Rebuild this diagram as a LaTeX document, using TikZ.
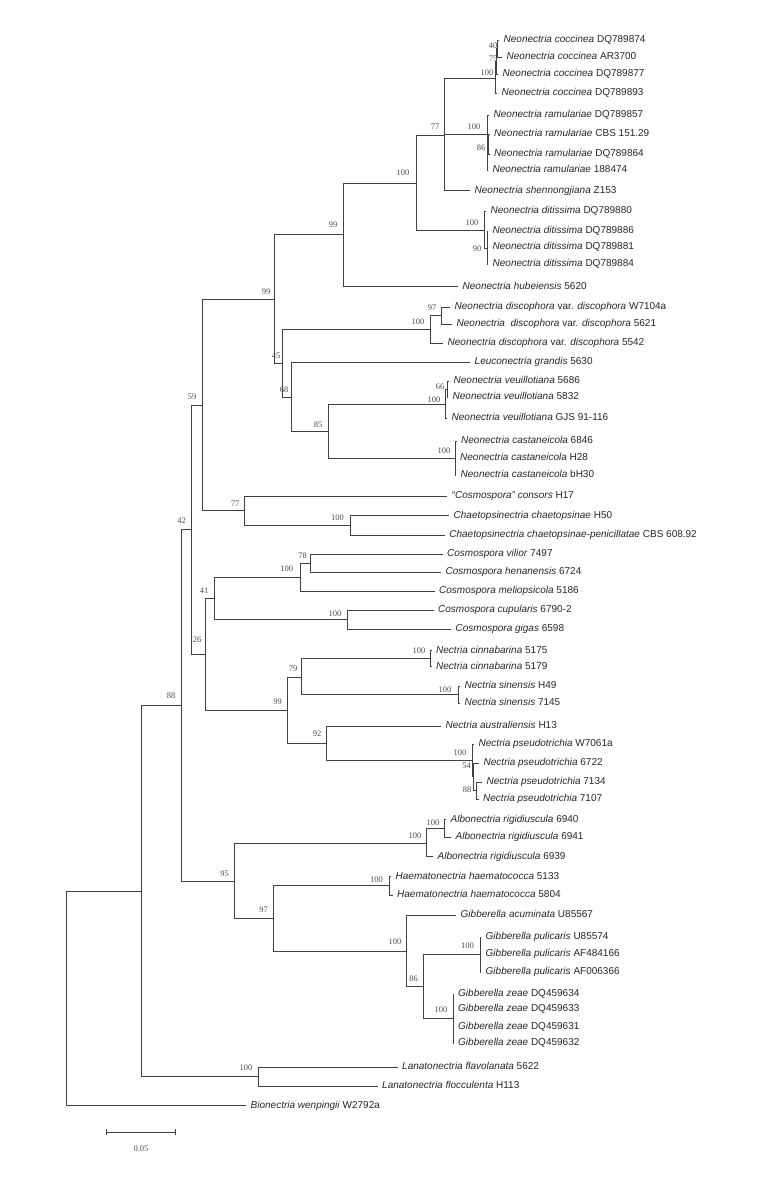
\documentclass[tikz,border=0pt]{standalone}
\usepackage{fontspec}
\setmainfont{Liberation Serif}
\setsansfont{Liberation Sans}
\usetikzlibrary{arrows.meta}

\tikzset{
  br/.style={draw=black!75, line width=0.8pt},
  tiplab/.style={anchor=west, inner xsep=4.5pt, inner ysep=0pt,
                 text height=7pt, text depth=2pt,
                 font=\sffamily\fontsize{10}{12}\selectfont, text=black!85},
  bs/.style={inner sep=0pt, font=\rmfamily\fontsize{8.5}{10}\selectfont, text=black!70},
}

\begin{document}
\begin{tikzpicture}[x=1pt, y=-1pt, line join=miter]
\useasboundingbox (0,0) rectangle (756,1181);

% internal nodes: name / x / y / support / label position
\coordinate (root) at (66,998.5);
\coordinate (nIn) at (141,891);
\foreach \n/\x/\y/\b/\lx/\ly in {
    nA40/497.5/48.5/40/493/46, nA75/496/61/75/493/59, nA100/495/78/100/487/73,
    nR86/488.5/144/86/481/148, nR100/487/134/100/474/127, n77/444/135/77/435/127,
    nD90/487/248/90/477/249, nD100/484/230/100/472/223, n100a/416/183/100/403/173,
    n99a/343/234/99/333/225, nDi97/441/315.5/97/432/308, nDi100/430/329/100/418/322,
    nV66/447/389/66/440/387, nV100/445/404/100/434/400, nC100/455/458/100/444/451,
    n85/328/431/85/318/425, n68/291/397/68/284/390, n45/282/363/45/276/356,
    n99b/274/299/99/266/292, nCh100/350/525/100/337.5/518, n77b/244/510.5/77/235/504,
    n59/202/405/59/192/397, nCo78/310.7/563/78/302.7/555.7, nCo100/300.7/577/100/286.7/568.7,
    nCg100/347/619.5/100/335/614, n41/214/598.5/41/204/590.7, nCi100/430.7/658.5/100/419/650.7,
    nS100/458/694.5/100/445/690, n79/301.7/677/79/293/669, nP88/476.4/790.5/88/467/790,
    nP54/473/776.5/54/466.5/766, nP100/472/760/100/460/753, n92/326/743/92/317/734,
    n99c/287.3/710/99/277.7/702, n26/205.7/654/26/197/640, n42/191.5/529.5/42/181.7/520.7,
    nAl100i/444.7/828/100/433/822.7, nAl100/426.3/843/100/415/836, nH100/389.2/885.8/100/376.6/879.3,
    nGp100/480.4/954.5/100/467.6/945.7, nGz100/452.9/1018.5/100/441/1010, nG86/423.2/986.5/86/413.6/978.3,
    nG100/406.5/951/100/395/941.7, n97/273.2/918.8/97/263.7/910, n95/234.2/881/95/224.6/873.3,
    n88/181/705/88/171/696, nL100/258/1076.5/100/246/1068}{
  \coordinate (\n) at (\x,\y);
  \node[bs] (b\n) at (\lx,\ly) {\b};
}

% tips: name / branch end x / y / label
\foreach \n/\x/\y/\t in {
    t01/499/40/{\textit{Neonectria coccinea} DQ789874},
    t02/502/57/{\textit{Neonectria coccinea} AR3700},
    t03/498/74/{\textit{Neonectria coccinea} DQ789877},
    t04/497/93/{\textit{Neonectria coccinea} DQ789893},
    t05/489/115/{\textit{Neonectria ramulariae} DQ789857},
    t06/489.5/134/{\textit{Neonectria ramulariae} CBS 151.29},
    t07/489.5/154/{\textit{Neonectria ramulariae} DQ789864},
    t08/488/170/{\textit{Neonectria ramulariae} 188474},
    t09/470/190.7/{\textit{Neonectria shennongjiana} Z153},
    t10/486/211/{\textit{Neonectria ditissima} DQ789880},
    t11/488/231/{\textit{Neonectria ditissima} DQ789886},
    t12/488/247/{\textit{Neonectria ditissima} DQ789881},
    t13/488/264/{\textit{Neonectria ditissima} DQ789884},
    t14/458/286.7/{\textit{Neonectria hubeiensis} 5620},
    t15/450/307/{\textit{Neonectria discophora} var. \textit{discophora} W7104a},
    t16/452/324/{\textit{Neonectria\ \ discophora} var. \textit{discophora} 5621},
    t17/443/343/{\textit{Neonectria discophora} var. \textit{discophora} 5542},
    t18/470/362/{\textit{Leuconectria grandis} 5630},
    t19/449/381/{\textit{Neonectria veuillotiana} 5686},
    t20/448/397/{\textit{Neonectria veuillotiana} 5832},
    t21/447/418/{\textit{Neonectria veuillotiana} GJS 91-116},
    t22/456.5/441/{\textit{Neonectria castaneicola} 6846},
    t23/455.5/458/{\textit{Neonectria castaneicola} H28},
    t24/456/475/{\textit{Neonectria castaneicola} bH30},
    t25/447/496/{\textit{“Cosmospora” consors} H17},
    t26/449/515.5/{\textit{Chaetopsinectria chaetopsinae} H50},
    t27/444.7/535/{\textit{Chaetopsinectria chaetopsinae-penicillatae} CBS 608.92},
    t28/442.5/554/{\textit{Cosmospora vilior} 7497},
    t29/441/572/{\textit{Cosmospora henanensis} 6724},
    t30/434.5/591/{\textit{Cosmospora meliopsicola} 5186},
    t31/433.5/610/{\textit{Cosmospora cupularis} 6790-2},
    t32/451/629/{\textit{Cosmospora gigas} 6598},
    t33/431.5/650.5/{\textit{Nectria cinnabarina} 5175},
    t34/431.5/666.5/{\textit{Nectria cinnabarina} 5179},
    t35/460/686/{\textit{Nectria sinensis} H49},
    t36/460/703/{\textit{Nectria sinensis} 7145},
    t37/441/726/{\textit{Nectria australiensis} H13},
    t38/474/744/{\textit{Nectria pseudotrichia} W7061a},
    t39/479/763/{\textit{Nectria pseudotrichia} 6722},
    t40/482/782/{\textit{Nectria pseudotrichia} 7134},
    t41/478.5/799/{\textit{Nectria pseudotrichia} 7107},
    t42/446/819.5/{\textit{Albonectria rigidiuscula} 6940},
    t43/451/837/{\textit{Albonectria rigidiuscula} 6941},
    t44/433/856.5/{\textit{Albonectria rigidiuscula} 6939},
    t45/391/876.7/{\textit{Haematonectria haematococca} 5133},
    t46/392.5/895/{\textit{Haematonectria haematococca} 5804},
    t47/456/915/{\textit{Gibberella acuminata} U85567},
    t48/481/937/{\textit{Gibberella pulicaris} U85574},
    t49/481/954.3/{\textit{Gibberella pulicaris} AF484166},
    t50/481/972/{\textit{Gibberella pulicaris} AF006366},
    t51/453.5/994/{\textit{Gibberella zeae} DQ459634},
    t52/453.5/1009/{\textit{Gibberella zeae} DQ459633},
    t53/453.5/1026.7/{\textit{Gibberella zeae} DQ459631},
    t54/453.5/1043/{\textit{Gibberella zeae} DQ459632},
    t55/397.5/1067/{\textit{Lanatonectria flavolanata} 5622},
    t56/377.5/1086/{\textit{Lanatonectria flocculenta} H113},
    t57/246/1105.7/{\textit{Bionectria wenpingii} W2792a}}{
  \coordinate (\n) at (\x,\y);
  \node[tiplab] (l\n) at (\n) {\t};
}

% branches, parent to child
\foreach \p/\c in {root/nIn, root/t57, nIn/n88, nIn/nL100, nL100/t55, nL100/t56,
    n88/n42, n88/n95, n42/n59, n42/n26, n59/n99b, n59/n77b,
    n99b/n99a, n99b/n45, n99a/n100a, n99a/t14, n100a/n77, n100a/nD100,
    n77/nA100, n77/nR100, n77/t09, nA100/nA75, nA100/t04, nA75/nA40, nA75/t03,
    nA40/t01, nA40/t02, nR100/t05, nR100/nR86, nR100/t08, nR86/t06, nR86/t07,
    nD100/t10, nD100/nD90, nD90/t11, nD90/t12, nD90/t13,
    n45/nDi100, n45/n68, nDi100/nDi97, nDi100/t17, nDi97/t15, nDi97/t16,
    n68/t18, n68/n85, n85/nV100, n85/nC100, nV100/nV66, nV100/t21, nV66/t19, nV66/t20,
    nC100/t22, nC100/t23, nC100/t24, n77b/t25, n77b/nCh100, nCh100/t26, nCh100/t27,
    n26/n41, n26/n99c, n41/nCo100, n41/nCg100, nCo100/nCo78, nCo100/t30,
    nCo78/t28, nCo78/t29, nCg100/t31, nCg100/t32,
    n99c/n79, n99c/n92, n79/nCi100, n79/nS100, nCi100/t33, nCi100/t34, nS100/t35, nS100/t36,
    n92/t37, n92/nP100, nP100/t38, nP100/nP54, nP54/t39, nP54/nP88, nP88/t40, nP88/t41,
    n95/nAl100, n95/n97, nAl100/nAl100i, nAl100/t44, nAl100i/t42, nAl100i/t43,
    n97/nH100, n97/nG100, nH100/t45, nH100/t46, nG100/t47, nG100/nG86,
    nG86/nGp100, nG86/nGz100, nGp100/t48, nGp100/t49, nGp100/t50,
    nGz100/t51, nGz100/t52, nGz100/t53, nGz100/t54}
  \draw[br] (\p) |- (\c);

% scale bar
\coordinate (sbL) at (106,1132);
\coordinate (sbR) at (176,1132);
\draw[br, {Bar[width=6pt]}-{Bar[width=6pt]}] (sbL) -- (sbR);
\node[bs] (sblab) at (141,1149) {0.05};
\end{tikzpicture}
\end{document}
